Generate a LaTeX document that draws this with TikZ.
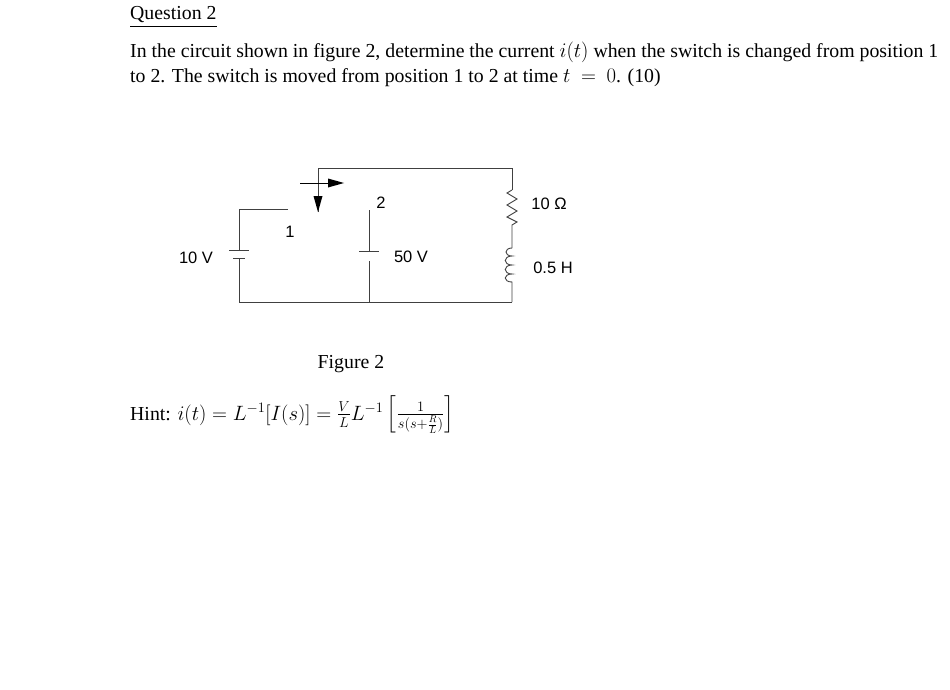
\documentclass[tikz,border=0pt]{standalone}
\usepackage{fontspec}
\setmainfont{Liberation Serif}
\newfontfamily\arialf{Liberation Sans}
\usepackage{amsmath}
\usetikzlibrary{arrows.meta}
\begin{document}
\begin{tikzpicture}[x=1pt,y=-1pt,
  wire/.style={line width=0.9pt,draw=black!75},
  lab/.style={font=\arialf\fontsize{16.5}{18}\selectfont,inner sep=0pt},
  txt/.style={font=\fontsize{19.8}{23}\selectfont,inner sep=0pt,anchor=base west}]
\useasboundingbox (0,0) rectangle (950,690);
% texts
\node[txt] (q) at (130,20) {\underline{Question 2}};
\node[txt] (p1) at (130,58) {In the circuit shown in figure 2, determine the current $i(t)$ when the switch is changed from position 1};
\node[txt] (p2) at (130,83) {to 2. The switch is moved from position 1 to 2 at time $t\ =\ 0$. (10)};
\node[txt,anchor=base] (fig) at (351,368) {Figure 2};
\node[txt] (hint) at (130,420) {Hint: $i(t)=L^{-1}[I(s)]=\tfrac{V}{L}L^{-1}\left[\tfrac{1}{s(s+\frac{R}{L})}\right]$};
% coordinates
\coordinate (tl) at (239,209);
\coordinate (c1) at (288,209);
\coordinate (bl) at (239,302);
\coordinate (bm) at (369,302);
\coordinate (br) at (512,302);
\coordinate (m2) at (369,210);
\coordinate (st) at (318,168);
\coordinate (tr) at (512,168);
\coordinate (sw) at (318,212);
% left branch with 10V battery
\draw[wire] (c1) -- (tl) -- (239,250);
\draw[wire] (229,250) -- (249,250);
\draw[wire] (233,258) -- (245,258);
\draw[wire] (239,258) -- (bl) -- (br);
% middle branch 50V
\draw[wire] (m2) -- (369,251);
\draw[wire] (359,251) -- (379,251);
\draw[wire] (369,261) -- (bm);
% switch
\draw[wire] (sw) -- (st) -- (tr) -- (512,190);
\fill[black] (318,212) -- (313.5,196) -- (322.5,196) -- cycle;
\draw[line width=0.9pt] (300,183) -- (330,183);
\fill[black] (344,183) -- (328,178.5) -- (328,187.5) -- cycle;
% resistor
\draw[wire] (512,190) -- (507,193) -- (517,199) -- (507,205) -- (517,211) -- (507,217) -- (517,222) -- (512,225) -- (512,248);
% inductor
\draw[wire] (512,248) .. controls (504,248) and (504,256) .. (512,256)
  .. controls (503,256) and (503,265) .. (512,265)
  .. controls (503,265) and (503,274) .. (512,274)
  .. controls (503,274) and (503,282) .. (512,282) -- (br);
% labels
\node[lab] (l10v) at (196,258) {10 V};
\node[lab] (l1) at (290,232) {1};
\node[lab] (l2) at (381,203) {2};
\node[lab] (l50) at (411,257) {50 V};
\node[lab] (lr) at (549,204) {10 Ω};
\node[lab] (ll) at (553,268) {0.5 H};
\end{tikzpicture}
\end{document}
